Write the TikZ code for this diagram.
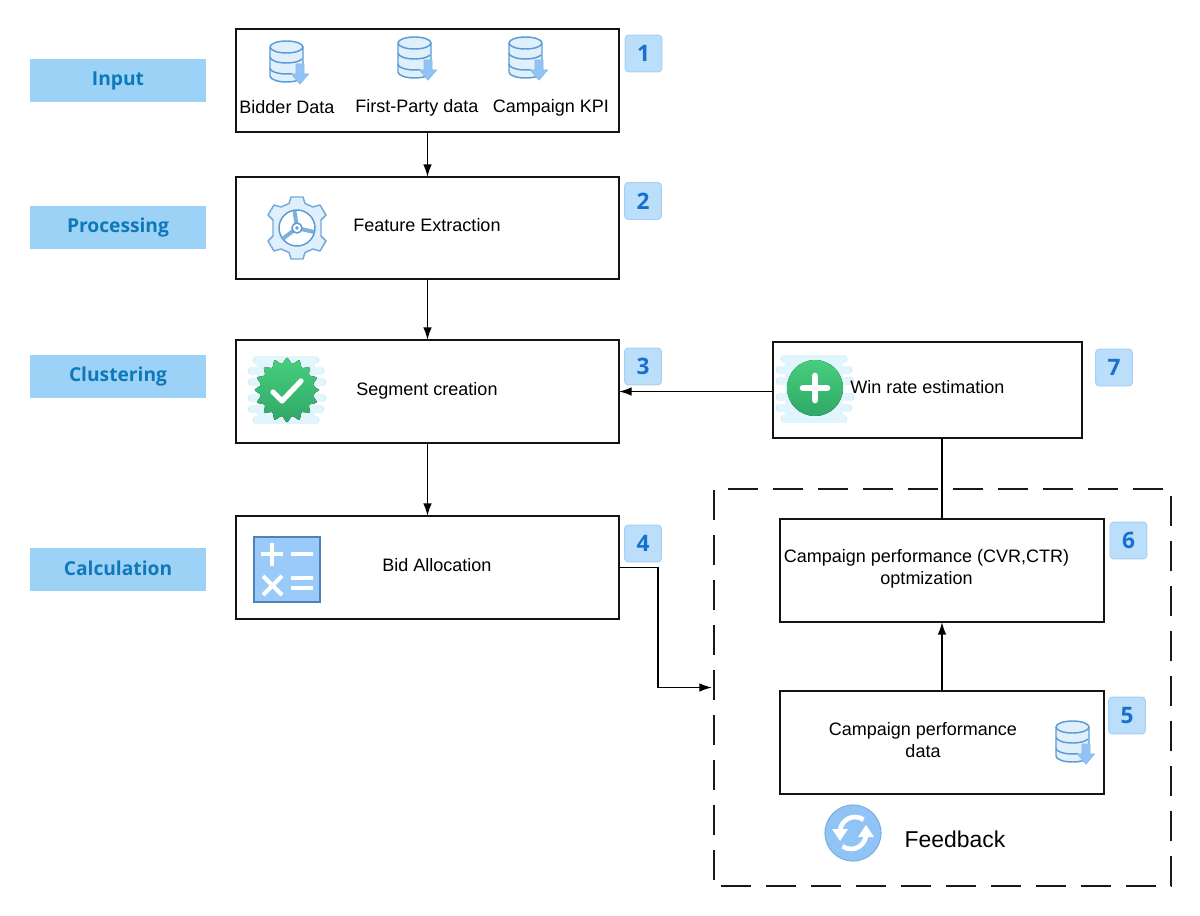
\documentclass[tikz,border=0pt]{standalone}
\usepackage{fontspec}
\setmainfont{Liberation Sans}
\newfontfamily\lblfont{Open Sans}
\usetikzlibrary{arrows.meta,shadings}
\definecolor{iconstroke}{HTML}{5B9BD5}
\definecolor{iconfill}{HTML}{E0EFFC}
\definecolor{arrowfill}{HTML}{90C4F7}
\definecolor{calcfill}{HTML}{99CAF9}
\definecolor{lblfill}{HTML}{9CD2F5}
\definecolor{lbltext}{HTML}{0F78B8}
\definecolor{badgefill}{HTML}{BBDEFB}
\definecolor{badgeline}{HTML}{A8D0F2}
\definecolor{badgetext}{HTML}{1670D0}
\definecolor{palebar}{HTML}{E0F5FC}
\definecolor{palebarline}{HTML}{D0E4EA}
\definecolor{greentop}{HTML}{48CE7E}
\definecolor{greenbot}{HTML}{2FA866}
\tikzset{
  x=0.75pt,y=-0.75pt,
  mainbox/.style={draw=black!92,line width=1.5pt,outer sep=0pt,minimum width=#1,inner sep=0pt,anchor=north west},
  boxtext/.style={font=\fontsize{13.5pt}{16.5pt}\selectfont,align=center,inner sep=0pt,text=black},
  sidelabel/.style={fill=lblfill,minimum width=132pt,minimum height=32.5pt,inner sep=0pt,
    font=\lblfont\bfseries\fontsize{14.4pt}{16pt}\selectfont,text=lbltext},
  badge/.style={fill=badgefill,draw=badgeline,line width=0.75pt,rounded corners=2.5pt,minimum width=27.5pt,
    minimum height=27.5pt,inner sep=0pt,font=\lblfont\bfseries\fontsize{17pt}{20pt}\selectfont,text=badgetext},
  flow/.style={draw=black,line width=1.2pt,-{Latex[length=9.5pt,width=6.5pt]}},
  plainflow/.style={draw=black,line width=1.2pt},
  icline/.style={draw=iconstroke,line width=1.1pt},
  pics/dbicon/.style={code={
    \path[icline,fill=iconfill] (0,6) arc[start angle=180,end angle=360,x radius=16.5,y radius=6]
      -- (33,35) arc[start angle=0,end angle=180,x radius=16.5,y radius=6] -- cycle;
    \draw[icline] (0,6) arc[start angle=180,end angle=0,x radius=16.5,y radius=6];
    \draw[icline] (0,16) arc[start angle=180,end angle=20,x radius=16.5,y radius=6];
    \draw[icline] (0,27) arc[start angle=180,end angle=70,x radius=16.5,y radius=6];
    \path[fill=arrowfill,draw=iconstroke!70,line width=0.6pt] (26,23) -- (34,23) -- (34,33) -- (38.5,33) -- (30,43) -- (21.5,33) -- (26,33) -- cycle;
  }},
  pics/gearicon/.style={code={
    \path[draw=iconstroke!85,line width=1.1pt,fill=iconfill,line join=round] (-6,-31) -- (6,-31) -- (8,-24.5) -- (16,-21) -- (23,-23) -- (29,-13) -- (24,-8)
      -- (24,8) -- (29,13) -- (23,23) -- (16,21) -- (8,24.5) -- (6,31) -- (-6,31) -- (-8,24.5) -- (-16,21)
      -- (-23,23) -- (-29,13) -- (-24,8) -- (-24,-8) -- (-29,-13) -- (-23,-23) -- (-16,-21) -- (-8,-24.5) -- cycle;
    \draw[icline,fill=white] (0,0) circle[radius=18];
    \draw[iconstroke!80,line width=3pt] (0,0) -- (-2.5,-17);
    \draw[iconstroke!80,line width=3pt] (0,0) -- (-14,10.5);
    \draw[iconstroke!80,line width=3pt] (0,0) -- (17,4);
    \draw[icline,fill=white] (0,0) circle[radius=5];
    \fill[iconstroke] (0,0) circle[radius=1.8];
  }},
  pics/barsicon/.style={code={
    \foreach \xa/\xb/\yy in {-30/28/-30,-35/33/-19,-35/-22/-8,22/35/-8,-35/-22/8,22/35/8,-35/33/19,-30/28/30}{
      \draw[palebarline,line width=6.6pt,line cap=round] (\xa,\yy) -- (\xb,\yy);
      \draw[palebar,line width=5.4pt,line cap=round] (\xa,\yy) -- (\xb,\yy);
    }
    \fill[palebar] (-30,-26) rectangle (28,26);
  }},
  pics/sealicon/.style={code={
    \fill[top color=greentop,bottom color=greenbot] plot[smooth,samples=33,domain=0:360] (\x:{29.5+2.8*cos(16*\x)});
    \draw[white,line width=3.9pt,line cap=round,line join=round] (-14,2) -- (-5,11) -- (14,-9);
  }},
  pics/plusicon/.style={code={
    \fill[top color=greentop,bottom color=greenbot] (0,0) circle[radius=28];
    \draw[white,line width=5pt,line cap=round] (-12,0) -- (12,0);
    \draw[white,line width=5pt,line cap=round] (0,-12) -- (0,12);
  }},
  pics/calcicon/.style={code={
    \path[fill=calcfill,draw=iconstroke!85!black,line width=1.3pt] (0,0) rectangle (66,65);
    \foreach \p/\q in {{(7,17)}/{(29,17)},{(18,6)}/{(18,29)},{(37,17)}/{(59,17)},{(9,39)}/{(28,58)},{(28,39)}/{(9,58)},{(37,41)}/{(59,41)},{(37,51)}/{(59,51)}}{
      \draw[white,line width=3pt] \p -- \q;
    }
  }},
  pics/refreshicon/.style={code={
    \path[fill=arrowfill,draw=iconstroke!80,line width=0.8pt] (0,0) circle[radius=28];
    \draw[white,line width=3.5pt] (-13,-1) arc[start angle=180,end angle=305,radius=15];
    \draw[white,line width=3.5pt] (13,1) arc[start angle=0,end angle=125,radius=15];
    \fill[white] (-21,-4) -- (-5,-4) -- (-13,8) -- cycle;
    \fill[white] (21,4) -- (5,4) -- (13,-8) -- cycle;
  }}
}
\begin{document}
\begin{tikzpicture}
\useasboundingbox (0,0) rectangle (1200,916);
% side labels
\node[sidelabel] (lin) at (118,80.5) {\raisebox{-0.6pt}{Input}};
\node[sidelabel] (lpr) at (118,227.5) {Processing};
\node[sidelabel] (lcl) at (118,376.5) {Clustering};
\node[sidelabel] (lca) at (118,569.5) {\raisebox{2.25pt}{Calculation}};
% boxes
\node[mainbox=287.25pt,minimum height=77.25pt] (b1) at (236,29) {};
\node[mainbox=287.25pt,minimum height=76.5pt] (b2) at (236,177) {};
\node[mainbox=287.25pt,minimum height=77.25pt] (b3) at (236,340) {};
\node[mainbox=287.25pt,minimum height=77.25pt] (b4) at (236,516) {};
\node[mainbox=231.75pt,minimum height=72pt] (b7) at (773,342) {};
\node[mainbox=243pt,minimum height=77.25pt] (b6) at (780,519) {};
\node[mainbox=243pt,minimum height=77.25pt] (b5) at (780,691) {};
\node[draw=black!90,line width=1.3pt,dash pattern=on 22.5pt off 11.25pt,dash phase=28.5pt,outer sep=0pt,minimum width=342.75pt,minimum height=297.75pt,inner sep=0pt,anchor=north west] (fb) at (714,489) {};
% badges
\node[badge] (n1) at (643.5,53.5) {1};
\node[badge] (n2) at (643,201) {2};
\node[badge] (n3) at (643,366.5) {3};
\node[badge] (n4) at (643,543.5) {4};
\node[badge] (n7) at (1114,367.5) {7};
\node[badge] (n6) at (1128.5,540.5) {6};
\node[badge] (n5) at (1127,715.5) {5};
% icons
\pic at (270,41) {dbicon};
\pic at (398,37) {dbicon};
\pic at (509,37) {dbicon};
\pic at (1056,721) {dbicon};
\pic at (297,228) {gearicon};
\pic at (287,390) {barsicon};
\pic at (287,390) {sealicon};
\pic at (815,389) {barsicon};
\pic at (815,388) {plusicon};
\pic at (254,537) {calcicon};
\pic at (853,833) {refreshicon};
% texts
\node[boxtext] (t1a) at (287,107.5) {Bidder Data};
\node[boxtext] (t1b) at (417,107.5) {First-Party data};
\node[boxtext] (t1c) at (551,107.5) {Campaign KPI};
\node[boxtext] (t2) at (427,225.5) {Feature Extraction};
\node[boxtext] (t3) at (427,390.5) {Segment creation};
\node[boxtext] (t4) at (437,565) {Bid Allocation};
\node[boxtext] (t7) at (927.5,387.5) {Win rate estimation};
\node[boxtext] (t6) at (926.5,568.5) {Campaign performance (CVR,CTR)\\optmization};
\node[boxtext] (t5) at (923,740) {Campaign performance\\data};
\node[boxtext,font=\fontsize{17.2pt}{21pt}\selectfont] (tf) at (955,839) {Feedback};
% connectors
\draw[flow] (b1.south) -- (b2.north);
\draw[flow] (b2.south) -- (b3.north);
\draw[flow] (b3.south) -- (b4.north);
\draw[flow] (b7.west |- b3.east) -- (b3.east);
\draw[plainflow] (b6.north) -- (b6.north |- b7.south);
\draw[flow] (b5.north) -- (b6.south);
\draw[flow,shorten >=1.5pt] (b4.east) -- ++(39,0) |- (fb.west);
\end{tikzpicture}
\end{document}
